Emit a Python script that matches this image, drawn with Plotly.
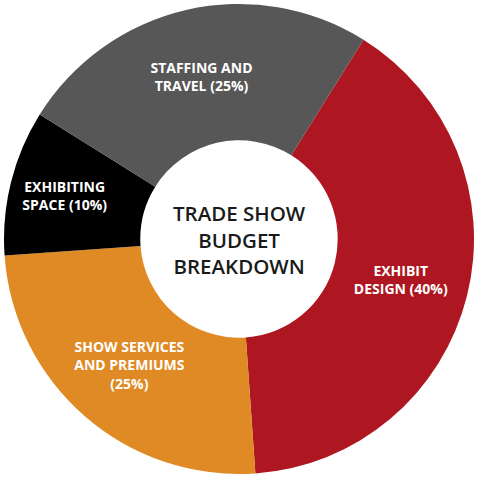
import plotly.graph_objects as go

categories = ["Exhibit Design", "Show Services and Premiums", "Exhibiting Space", "Staffing and Travel"]
shares = [40, 25, 10, 25]
slice_text = [
    "EXHIBIT<br>DESIGN (40%)",
    "SHOW SERVICES<br>AND PREMIUMS<br>(25%)",
    "EXHIBITING<br>SPACE (10%)",
    "STAFFING AND<br>TRAVEL (25%)",
]
colors = ["#AE1721", "#E08A25", "#000000", "#575757"]
center_title = "TRADE SHOW<br>BUDGET<br>BREAKDOWN"

fig = go.Figure(go.Pie(
    labels=categories,
    values=shares,
    text=slice_text,
    textinfo="text",
    textposition="inside",
    insidetextorientation="horizontal",
    textfont=dict(family="Open Sans", size=14, color="white", weight="bold"),
    marker=dict(colors=colors, line=dict(width=0)),
    hole=0.42,
    sort=False,
    direction="clockwise",
    rotation=32,
    showlegend=False,
    hoverinfo="skip",
))

fig.add_annotation(
    text=center_title, x=0.5, y=0.5, xref="paper", yref="paper",
    showarrow=False,
    font=dict(family="Open Sans", size=20.5, color="#1a1a1a", weight=600),
)

fig.update_layout(
    width=480, height=480,
    margin=dict(l=4, r=6, t=4, b=6),
    paper_bgcolor="white", plot_bgcolor="white",
)

fig.write_html("out.html", config={"displayModeBar": False},
               post_script="document.body.style.margin='0';")
